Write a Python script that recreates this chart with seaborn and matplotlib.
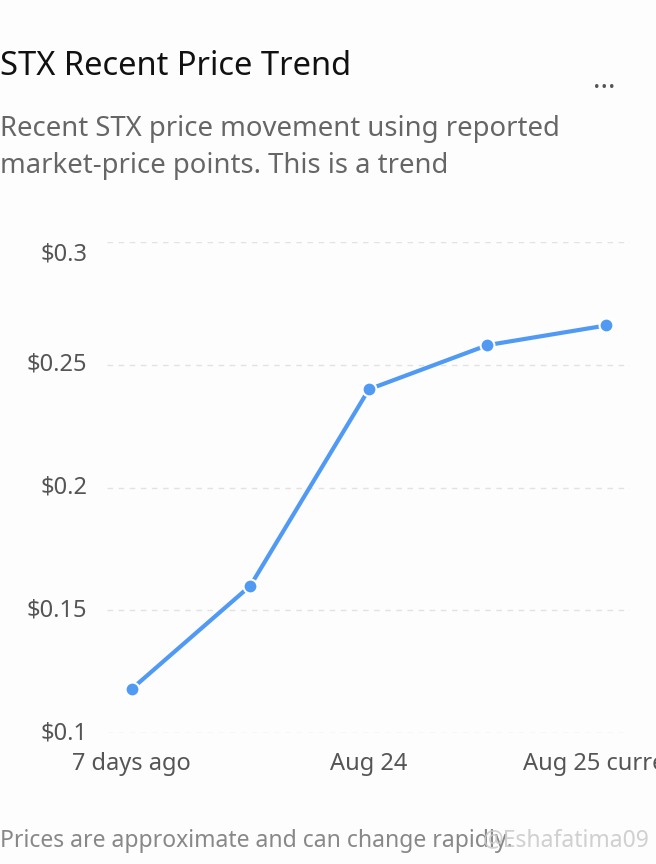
import matplotlib
matplotlib.use("Agg")
import matplotlib.pyplot as plt
import seaborn as sns
import pandas as pd

labels = ["7 days ago", "", "Aug 24", "", "Aug 25 current"]
prices = [0.118, 0.160, 0.240, 0.258, 0.266]
yticks = [0.1, 0.15, 0.2, 0.25, 0.3]
ytick_labels = ["$0.1", "$0.15", "$0.2", "$0.25", "$0.3"]

sns.set_theme(style="white")
plt.rcParams['font.family'] = ['Noto Sans', 'DejaVu Sans']

bg = "#fdfdfe"
fig = plt.figure(figsize=(6.56, 8.64), dpi=100, facecolor=bg)
ax = fig.add_axes([0.163, 0.1516, 0.797, 0.5683], facecolor=bg)

df = pd.DataFrame({"idx": range(len(prices)), "price": prices})
sns.lineplot(data=df, x="idx", y="price", ax=ax, color="#519af4", linewidth=3,
             marker="o", markersize=10, markeredgecolor="white", markeredgewidth=1.5,
             clip_on=False)

ax.set_xlim(-0.21, 4.2)
ax.set_ylim(0.1, 0.3)
ax.set_yticks(yticks)
ax.set_yticklabels(ytick_labels)
ax.set_xticks(range(len(labels)))
ax.set_xticklabels(labels)
ax.set_xlabel("")
ax.set_ylabel("")
ax.tick_params(axis="y", length=0, pad=14, labelsize=17, labelcolor="#555555")
ax.tick_params(axis="x", length=0, pad=14, labelsize=17, labelcolor="#555555")
for lab in ax.get_yticklabels():
    lab.set_verticalalignment("center")
ax.get_yticklabels()[-1].set_verticalalignment("top")
ax.grid(axis="y", color="#e2e2e2", linestyle=(0, (4, 4)), linewidth=1)
for s in ax.spines.values():
    s.set_visible(False)
ax.set_axisbelow(True)

fig.text(0.0, 0.923, "STX Recent Price Trend", fontsize=23.5, color="#111111", va="center", ha="left")
fig.text(0.921, 0.906, "...", fontsize=20, color="#555555", ha="center", va="center", fontweight="bold")
fig.text(0.0, 0.851, "Recent STX price movement using reported", fontsize=19.8, color="#666666", va="center")
fig.text(0.0, 0.808, "market-price points. This is a trend", fontsize=19.8, color="#666666", va="center")
fig.text(0.0, 0.027, "Prices are approximate and can change rapidly.", fontsize=16.5, color="#888888", va="center")
fig.text(0.99, 0.027, "@Eshafatima09", fontsize=16.5, color="#c8c8c8", va="center", ha="right", alpha=0.85)

fig.savefig("out.png", dpi=100, facecolor=bg)
